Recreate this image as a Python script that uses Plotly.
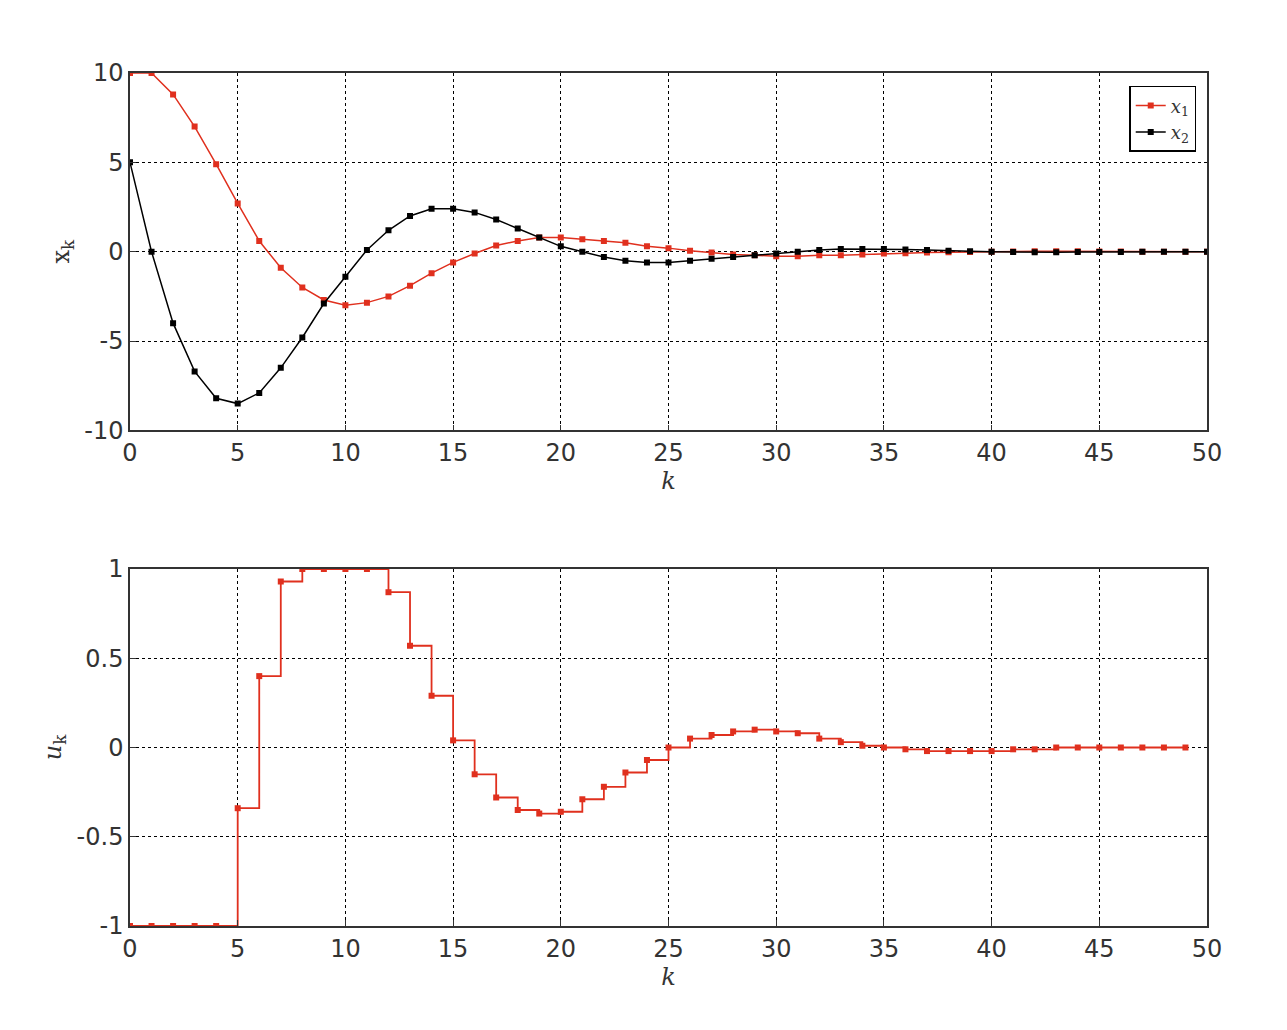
import plotly.graph_objects as go

k_state = list(range(51))
x1 = [10, 10, 8.8, 7.0, 4.9, 2.7, 0.6, -0.9, -2.0, -2.7, -3.0, -2.85, -2.5, -1.9, -1.2, -0.6, -0.1, 0.35, 0.6, 0.8,
      0.8, 0.7, 0.6, 0.5, 0.3, 0.2, 0.05, -0.05, -0.15, -0.2, -0.25, -0.25, -0.2, -0.2, -0.15, -0.1, -0.08, -0.05,
      -0.03, -0.02, 0.0, 0.01, 0.02, 0.02, 0.02, 0.01, 0.01, 0.0, 0.0, 0.0, 0.0]
x2 = [5, 0, -4.0, -6.7, -8.2, -8.5, -7.9, -6.5, -4.8, -2.9, -1.4, 0.1, 1.2, 2.0, 2.4, 2.4, 2.2, 1.8, 1.3, 0.8,
      0.3, 0.0, -0.3, -0.5, -0.6, -0.6, -0.5, -0.4, -0.3, -0.2, -0.1, 0.0, 0.1, 0.15, 0.15, 0.15, 0.12, 0.1,
      0.05, 0.03, 0.0, -0.02, -0.03, -0.03, -0.02, -0.02, -0.01, 0.0, 0.0, 0.0, 0.0]
k_input = list(range(50))
u = [-1, -1, -1, -1, -1, -0.34, 0.40, 0.93, 1, 1, 1, 1, 0.87, 0.57, 0.29, 0.04, -0.15, -0.28, -0.35, -0.37,
     -0.36, -0.29, -0.22, -0.14, -0.07, 0.0, 0.05, 0.07, 0.09, 0.10, 0.09, 0.08, 0.05, 0.03, 0.01, 0.0, -0.01,
     -0.02, -0.02, -0.02, -0.02, -0.01, -0.01, 0.0, 0.0, 0.0, 0.0, 0.0, 0.0, 0.0]
x_ticks = [0, 5, 10, 15, 20, 25, 30, 35, 40, 45, 50]
y1_ticks = [-10, -5, 0, 5, 10]
y1_labels = ["-10", "-5", "0", "5", "10"]
y2_ticks = [-1, -0.5, 0, 0.5, 1]
y2_labels = ["-1", "-0.5", "0", "0.5", "1"]

RED = "#e0301e"
fig = go.Figure()
fig.add_trace(go.Scatter(x=k_state, y=x1, mode="lines+markers", name="<i>x</i><sub>1</sub>",
                         line=dict(color=RED, width=1.5), marker=dict(symbol="square", size=6, color=RED),
                         xaxis="x", yaxis="y"))
fig.add_trace(go.Scatter(x=k_state, y=x2, mode="lines+markers", name="<i>x</i><sub>2</sub>",
                         line=dict(color="black", width=1.5), marker=dict(symbol="square", size=6, color="black"),
                         xaxis="x", yaxis="y"))
fig.add_trace(go.Scatter(x=k_input, y=u, mode="lines+markers", showlegend=False, line_shape="hv",
                         line=dict(color=RED, width=1.8), marker=dict(symbol="square", size=6, color=RED),
                         xaxis="x2", yaxis="y2"))

axis_common = dict(showgrid=True, gridcolor="black", griddash="dot", gridwidth=1, showline=True,
                   linecolor="#333", linewidth=1.5, mirror=True, ticks="inside", ticklen=6, tickcolor="#333",
                   zeroline=False, tickfont=dict(size=24, color="#333"))
ttl = dict(family="DejaVu Serif", size=24)
fig.update_layout(
    width=1287, height=1030, plot_bgcolor="white", paper_bgcolor="white",
    font=dict(family="DejaVu Sans", color="#333"),
    margin=dict(l=122, r=88, t=65, b=112),
    xaxis=dict(domain=[0, 1], range=[0, 50], tickvals=x_ticks, anchor="y",
               title=dict(text="<i>k</i>", font=ttl, standoff=5), **axis_common),
    yaxis=dict(domain=[0.581, 1], range=[-10, 10], tickvals=y1_ticks, ticktext=y1_labels, anchor="x",
               title=dict(text="x<sub>k</sub>", font=ttl, standoff=8), **axis_common),
    xaxis2=dict(domain=[0, 1], range=[0, 50], tickvals=x_ticks, anchor="y2",
                title=dict(text="<i>k</i>", font=ttl, standoff=5), **axis_common),
    yaxis2=dict(domain=[0, 0.4185], range=[-1, 1], tickvals=y2_ticks, ticktext=y2_labels, anchor="x2",
                title=dict(text="<i>u</i><sub>k</sub>", font=ttl, standoff=8), **axis_common),
    legend=dict(x=0.99, y=0.985, xanchor="right", yanchor="top", bgcolor="white", bordercolor="black",
                borderwidth=1.5, font=dict(family="DejaVu Serif", size=18)),
)
fig.write_html("out.html")
